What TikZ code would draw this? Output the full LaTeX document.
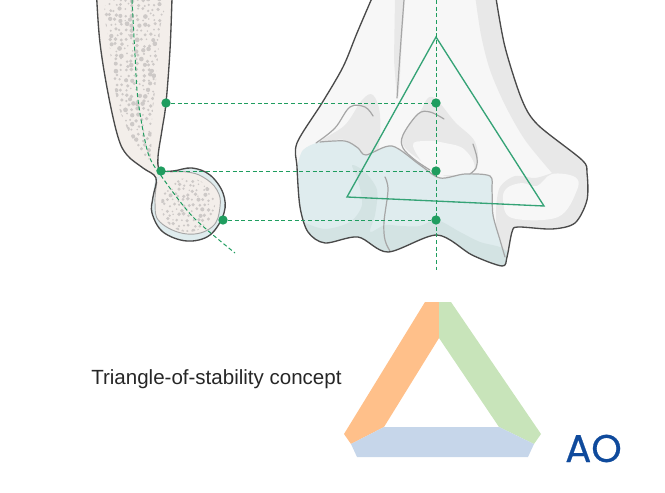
\documentclass[tikz,border=0pt]{standalone}
\usepackage{fontspec}
\setmainfont{Liberation Sans}
\newfontfamily\logofont[FakeBold=0.6]{Poppins}
\definecolor{bonefill}{HTML}{F3EEEA}
\definecolor{porecol}{HTML}{CDC9C7}
\definecolor{cart}{HTML}{DFECEE}
\definecolor{cartdark}{HTML}{D3E3E3}
\definecolor{humerus}{HTML}{F7F7F7}
\definecolor{bonegray}{HTML}{E8E8E8}
\definecolor{outline}{HTML}{4A4A4A}
\definecolor{innerline}{HTML}{A6A6A6}
\definecolor{markgreen}{HTML}{1F9D5F}
\definecolor{trigreen}{HTML}{35A376}
\definecolor{orangeband}{HTML}{FFC08A}
\definecolor{greenband}{HTML}{C8E4BA}
\definecolor{blueband}{HTML}{C6D6EA}
\definecolor{aoblue}{HTML}{0F4A9C}
\tikzset{
  guide/.style={draw=markgreen,line width=0.75pt,dash pattern=on 3pt off 2pt},
  pin/.style={circle,fill=markgreen,inner sep=0pt,minimum size=7pt},
  boneline/.style={draw=outline,line width=1pt,line join=round},
  softline/.style={draw=innerline,line width=0.9pt,line cap=round}
}
\newcommand{\humerusoutline}{plot[smooth,tension=0.5] coordinates {(372,-2)(357,33)(343,67)(322,103)(297,143)(297,167)(300,207)(308,232)(325,243)(358,237)(388,252)(437,235)(472,255)(502,266)(507,257)(512,232)(518,227)(552,229)(575,223)(587,200)(587,173)(582,160)(538,125)(522,100)(505,47)(496,-2)}}
\begin{document}
\begin{tikzpicture}[x=0.75pt,y=-0.75pt]
\useasboundingbox (0,0) rectangle (665,493);
% --- radius
\fill[bonefill] plot[smooth,tension=0.6] coordinates {(96.7,-2)(100,43)(108,93)(118,137)(127,155)(143,168)(156,178)(158,185)(170,172)(190,172)(203,177)(217,190)(220,207)(212,227)(187,234)(160,222)(155,203)(157,182)(160,170)(158,157)(162,130)(166,103)(170,50)(172,-2)};
\fill[cart,even odd rule] plot[smooth cycle,tension=0.7] coordinates {(157,178)(153,197)(152,213)(163,232)(187,241)(210,235)(224,213)(223,193)(210,175)(192,168)(173,171)}
 plot[smooth cycle,tension=0.7] coordinates {(157,182)(155,203)(160,222)(187,234)(212,227)(220,207)(217,190)(203,177)(187,172)(170,172)};
\fill[bonefill] plot[smooth cycle,tension=0.7] coordinates {(157,182)(155,203)(160,222)(187,234)(212,227)(220,207)(217,190)(203,177)(187,172)(170,172)};
\draw[softline,line width=0.7pt] plot[smooth,tension=0.7] coordinates {(157,182)(155,203)(160,222)(187,234)(212,227)(220,207)(217,190)(203,177)(187,172)(170,172)};
\begin{scope}
\clip plot[smooth cycle,tension=0.6] coordinates {(108,0)(110,50)(117,100)(128,130)(140,150)(150,158)(152,120)(156,80)(160,30)(161,0)};
\pgfmathsetseed{11}
\foreach \gy in {0,5,...,160}{
  \foreach \gx in {104,109.5,...,166}{
    \pgfmathsetmacro{\px}{\gx+3.2*rnd-1.6+mod(\gy,10)*0.27}
    \pgfmathsetmacro{\py}{\gy+3.2*rnd-1.6}
    \pgfmathsetmacro{\pr}{0.8+1.6*rnd}
    \fill[porecol] (\px,\py) circle[radius=\pr];
  }
}
\end{scope}
\begin{scope}
\clip (188,205) circle[radius=27];
\pgfmathsetseed{23}
\foreach \gy in {175,180,...,235}{
  \foreach \gx in {158,163,...,220}{
    \pgfmathsetmacro{\px}{\gx+3*rnd-1.5+mod(\gy,10)*0.25}
    \pgfmathsetmacro{\py}{\gy+3*rnd-1.5}
    \pgfmathsetmacro{\pr}{0.7+1.4*rnd}
    \fill[porecol] (\px,\py) circle[radius=\pr];
  }
}
\end{scope}
\draw[boneline] plot[smooth,tension=0.6] coordinates {(96.7,-2)(100,43)(108,93)(118,137)(127,155)(143,168)(156,178)(153,197)(152,213)(163,232)(187,241)(210,235)(224,213)(223,193)(210,175)(192,168)(173,171)(160,170)(158,157)(162,130)(166,103)(170,50)(172,-2)};
% --- humerus
\fill[humerus] \humerusoutline;
\begin{scope}
\clip \humerusoutline -- cycle;
% lateral band and epicondyle
\fill[bonegray] plot[smooth,tension=0.5] coordinates {(475,-5)(481,35)(490,70)(505,105)(525,140)(552,173)} -- (600,165) -- (600,280) -- (495,280) -- plot[smooth,tension=0.5] coordinates {(497,240)(496,210)(500,187)(515,176)(535,178)(552,173)} -- (552,173) -- (600,165) -- (520,-5) -- cycle;
\fill[humerus] plot[smooth cycle,tension=0.6] coordinates {(552,174)(575,177)(577,190)(558,217)(512,218)(503,200)(507,188)(522,183)(537,186)};
\fill[bonegray] plot[smooth,tension=0.6] coordinates {(395,-2)(404,-2)(402,40)(398,98)(394,60)};
% fossae
\fill[bonegray] plot[smooth cycle,tension=0.6] coordinates {(320,142)(345,125)(362,100)(373,95)(380,115)(378,150)(365,155)(345,140)};
\fill[bonegray] plot[smooth cycle,tension=0.6] coordinates {(428,98)(437,100)(455,122)(475,142)(477,168)(463,175)(445,176)(420,160)(403,145)(405,130)(420,112)};
\fill[humerus] plot[smooth cycle,tension=0.7] coordinates {(413,146)(425,141)(445,143)(465,150)(474,170)(450,175)(430,170)};
\end{scope}
% cartilage
\fill[cart] plot[smooth,tension=0.5] coordinates {(297,167)(303,150)(320,142)(345,141)(358,148)(366,155)(392,146)(420,165)(440,178)(465,174)(490,176)(492,190)(493,215)(500,240)(505,257)(502,266)(472,255)(437,235)(388,252)(358,237)(325,243)(308,232)(300,207)};
\begin{scope}
\clip \humerusoutline -- cycle;
\fill[cartdark] plot[smooth,tension=0.5] coordinates {(303,222)(325,229)(350,222)(362,205)(358,180)(352,165)(365,172)(377,190)(375,215)(370,232)(385,225)(400,226)(420,226)(437,220)(460,232)(480,242)(505,250)(510,275)(300,275)};
\end{scope}
\draw[softline] plot[smooth,tension=0.5] coordinates {(320,142)(345,141)(358,148)(366,155)(392,146)(420,165)(440,178)(465,174)(490,176)(492,190)(493,215)(500,240)(505,257)};
\draw[softline] plot[smooth,tension=0.6] coordinates {(316,143)(335,128)(350,107)(365,107)(373,116)};
\draw[softline] plot[smooth,tension=0.6] coordinates {(444,119)(430,112)(418,114)(403,135)(403,148)(415,160)(430,170)};
\draw[softline] plot[smooth,tension=0.6] coordinates {(473,144)(477,158)(476,168)(470,174)};
\draw[softline] plot[smooth,tension=0.6] coordinates {(385,177)(388,190)(384,222)(385,240)(390,251)};
\draw[softline] plot[smooth,tension=0.5] coordinates {(404,0)(401,40)(397,98)};
\draw[boneline] \humerusoutline;
% --- stability triangle
\coordinate (apex) at (436,37);
\coordinate (tl) at (347,197);
\coordinate (tr) at (544,206);
\draw[trigreen,line width=1pt,line join=miter] (apex) -- (tl) -- (tr) -- cycle;
% --- guides
\coordinate (axistop) at (436,0);
\coordinate (axisend) at (436,270);
\coordinate (shafttop) at (132,0);
\coordinate (shaftend) at (235,253);
\draw[guide] (axistop) -- (axisend);
\draw[guide] plot[smooth,tension=0.5] coordinates {(shafttop)(135,55)(138,100)(148,153)(162,177)(193,217)(shaftend)};
\node[pin] (a1) at (166,103) {};
\node[pin] (a2) at (161,171) {};
\node[pin] (a3) at (223,220) {};
\node[pin] (b1) at (436,103) {};
\node[pin] (b2) at (436,171) {};
\node[pin] (b3) at (436,220) {};
\draw[guide] (a1) -- (b1);
\draw[guide] (a2) -- (b2);
\draw[guide] (a3) -- (b3);
% --- coloured triangle
\fill[orangeband] (425,302) -- (439,302) -- (439,338) -- (384,427) -- (351,444) -- (344,434) -- cycle;
\fill[greenband] (439,302) -- (451,302) -- (541,434) -- (534,444) -- (499,427) -- (439,338) -- cycle;
\fill[blueband] (384,427) -- (499,427) -- (534,444) -- (528,457) -- (357,457) -- (351,444) -- cycle;
\node[anchor=base west,inner sep=0pt,font=\fontsize{15.4pt}{18pt}\selectfont,text=black!85] (caption) at (91,384) {Triangle-of-stability concept};
\node[anchor=base west,inner sep=0pt,font=\logofont\fontsize{29pt}{32pt}\selectfont,text=aoblue] (logo) at (565,462) {AO};
\end{tikzpicture}
\end{document}
